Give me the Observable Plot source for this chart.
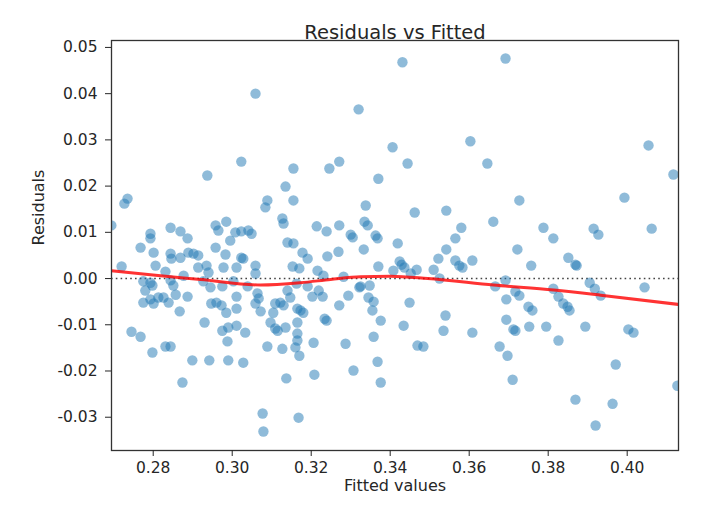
<!DOCTYPE html>
<html><head><meta charset="utf-8">
<script src="https://cdn.jsdelivr.net/npm/d3@7"></script>
<script src="https://cdn.jsdelivr.net/npm/@observablehq/plot@0.6"></script>
<style>html,body{margin:0;padding:0;background:#fff;}</style>
</head><body><div id="chart"></div>
<script>
const fitted = [
0.2694,0.2727,0.2735,0.2720,0.2768,0.2793,0.2793,0.2801,0.2806,0.2775,
0.2793,0.2798,0.2780,0.2775,0.2793,0.2801,0.2813,0.2745,0.2768,0.2798,
0.2831,0.2844,0.2869,0.2887,0.2844,0.2846,0.2869,0.2889,0.2902,0.2914,
0.2844,0.2851,0.2877,0.2826,0.2839,0.2857,0.2887,0.2867,0.2831,0.2844,
0.2874,0.2899,0.2914,0.2935,0.2937,0.2940,0.2927,0.2945,0.2930,0.2942,
0.2958,0.2965,0.2985,0.2995,0.2958,0.2983,0.3023,0.3008,0.3023,0.3041,
0.3049,0.3023,0.3028,0.3059,0.2978,0.3011,0.2975,0.3003,0.2947,0.2960,
0.2973,0.2985,0.3011,0.3011,0.2975,0.2990,0.3011,0.3033,0.2988,0.2990,
0.3028,0.3059,0.3039,0.3059,0.3064,0.3067,0.3059,0.3072,0.3077,0.3079,
0.3084,0.3089,0.3135,0.3155,0.3155,0.3127,0.3130,0.3140,0.3155,0.3178,
0.3191,0.3153,0.3170,0.3140,0.3147,0.3163,0.3109,0.3122,0.3130,0.3165,
0.3173,0.3180,0.3104,0.3097,0.3109,0.3115,0.3135,0.3165,0.3165,0.3165,
0.3160,0.3170,0.3127,0.3089,0.3137,0.3168,0.3191,0.3214,0.3239,0.3246,
0.3271,0.3271,0.3300,0.3305,0.3269,0.3241,0.3216,0.3231,0.3282,0.3219,
0.3229,0.3206,0.3208,0.3234,0.3239,0.3271,0.3294,0.3287,0.3307,0.3322,
0.3320,0.3203,0.3338,0.3335,0.3343,0.3333,0.3363,0.3368,0.3370,0.3406,
0.3431,0.3444,0.3419,0.3370,0.3424,0.3429,0.3436,0.3408,0.3452,0.3348,
0.3325,0.3345,0.3358,0.3355,0.3376,0.3358,0.3368,0.3376,0.3449,0.3434,
0.3462,0.3467,0.3510,0.3522,0.3525,0.3542,0.3542,0.3565,0.3565,0.3575,
0.3583,0.3580,0.3540,0.3535,0.3469,0.3484,0.3603,0.3646,0.3608,0.3661,
0.3692,0.3666,0.3692,0.3694,0.3608,0.3677,0.3697,0.3710,0.3694,0.3727,
0.3722,0.3757,0.3717,0.3727,0.3712,0.3717,0.3752,0.3750,0.3760,0.3788,
0.3813,0.3813,0.3826,0.3795,0.3826,0.3851,0.3869,0.3872,0.3838,0.3849,
0.3854,0.3894,0.3869,0.3915,0.3927,0.3905,0.3918,0.3933,0.3920,0.3993,
0.3963,0.3971,0.4003,0.4016,0.4044,0.4054,0.4062,0.4117,0.4127
];
const residuals = [
0.0115,0.0162,0.0173,0.0026,0.0067,0.0097,0.0087,0.0056,0.0028,-0.0006,
-0.0009,-0.0015,-0.0026,-0.0052,-0.0045,-0.0054,-0.0041,-0.0115,-0.0126,-0.0160,
0.0015,0.0110,0.0102,0.0087,0.0054,0.0043,0.0045,0.0056,0.0054,0.0050,
-0.0004,-0.0015,0.0006,-0.0041,-0.0052,-0.0035,-0.0039,-0.0071,-0.0147,-0.0147,
-0.0225,-0.0177,0.0024,0.0028,0.0223,0.0013,-0.0006,-0.0019,-0.0095,-0.0177,
0.0115,0.0104,0.0123,0.0082,0.0067,0.0052,0.0253,0.0100,0.0102,0.0104,
0.0097,0.0045,0.0043,0.0028,0.0024,0.0024,-0.0017,-0.0006,-0.0054,-0.0052,
-0.0058,-0.0074,-0.0039,-0.0065,-0.0113,-0.0106,-0.0102,-0.0117,-0.0136,-0.0177,
-0.0182,0.0400,-0.0017,0.0011,-0.0032,-0.0043,-0.0054,-0.0071,-0.0292,-0.0331,
0.0154,0.0169,0.0199,0.0238,0.0169,0.0130,0.0119,0.0078,0.0076,0.0056,
0.0043,0.0026,0.0022,-0.0026,-0.0041,-0.0011,-0.0054,-0.0052,-0.0058,-0.0065,
-0.0069,-0.0074,-0.0074,-0.0095,-0.0108,-0.0113,-0.0106,-0.0095,-0.0119,-0.0134,
-0.0149,-0.0167,-0.0152,-0.0147,-0.0216,-0.0301,-0.0017,0.0113,0.0102,0.0238,
0.0253,0.0115,0.0095,0.0089,0.0058,0.0048,0.0017,0.0006,0.0004,-0.0026,
-0.0039,-0.0139,-0.0208,-0.0087,-0.0091,-0.0058,-0.0037,-0.0141,-0.0199,-0.0019,
0.0366,-0.0039,0.0158,0.0123,0.0115,0.0063,0.0093,0.0087,0.0216,0.0284,
0.0468,0.0249,0.0076,0.0026,0.0037,0.0030,0.0024,0.0017,0.0011,-0.0015,
-0.0017,-0.0041,-0.0050,-0.0069,-0.0091,-0.0126,-0.0180,-0.0225,-0.0052,-0.0102,
0.0143,0.0019,0.0019,0.0043,0.0000,0.0147,0.0063,0.0087,0.0039,0.0028,
0.0024,0.0110,-0.0080,-0.0113,-0.0145,-0.0147,0.0297,0.0249,0.0039,0.0123,
0.0476,-0.0017,-0.0004,-0.0045,-0.0117,-0.0147,-0.0167,-0.0219,-0.0089,0.0169,
0.0063,0.0028,-0.0028,-0.0037,-0.0110,-0.0113,-0.0104,-0.0061,-0.0069,0.0110,
0.0087,-0.0022,-0.0039,-0.0104,-0.0134,0.0045,0.0030,0.0028,-0.0054,-0.0061,
-0.0069,-0.0104,-0.0262,0.0108,0.0095,-0.0009,-0.0022,-0.0037,-0.0318,0.0175,
-0.0271,-0.0186,-0.0110,-0.0117,-0.0019,0.0288,0.0108,0.0225,-0.0232
];
const lowessX = [0.2694,0.2793,0.2920,0.3072,0.3173,0.3249,0.3325,0.3401,0.3495,0.3662,0.3814,0.3933,0.4130];
const lowessY = [0.0017,0.0008,-0.0002,-0.0014,-0.0009,-0.0002,0.0004,0.0005,0.0000,-0.0014,-0.0025,-0.0036,-0.0056];
const xTicks = [0.28,0.30,0.32,0.34,0.36,0.38,0.40];
const yTicks = [-0.03,-0.02,-0.01,0.00,0.01,0.02,0.03,0.04,0.05];
const titleText = "Residuals vs Fitted";
const xLabel = "Fitted values";
const yLabel = "Residuals";

const points = fitted.map((f, i) => ({fitted: f, resid: residuals[i]}));
const smooth = lowessX.map((x, i) => ({x, y: lowessY[i]}));
const fmt = d => d.toFixed(2);

const chart = Plot.plot({
  width: 720, height: 513,
  marginLeft: 111, marginRight: 42, marginTop: 40, marginBottom: 63,
  style: {fontFamily: "DejaVu Sans", fontSize: "16px", color: "#262626", background: "white"},
  x: {domain: [0.26944, 0.41299]},
  y: {domain: [-0.0372, 0.0515]},
  marks: [
    Plot.ruleY([0], {stroke: "#444", strokeWidth: 1.6, strokeDasharray: "1.6,3.2"}),
    Plot.dot(points, {x: "fitted", y: "resid", r: 5.2, fill: "#1f77b4", fillOpacity: 0.5, stroke: "none", clip: true}),
    Plot.line(smooth, {x: "x", y: "y", stroke: "red", strokeOpacity: 0.8, strokeWidth: 3, curve: "monotone-x", clip: true}),
    Plot.frame({stroke: "#333", strokeWidth: 1.3}),
    Plot.axisX({ticks: xTicks, tickFormat: fmt, tickSize: 6, tickPadding: 5, fontSize: 15.5, label: null}),
    Plot.axisY({ticks: yTicks, tickFormat: fmt, tickSize: 6, tickPadding: 8, fontSize: 15.5, label: null}),
    Plot.text([titleText], {text: d => d, frameAnchor: "top", dy: -15.5, fontSize: 19.5}),
    Plot.text([xLabel], {text: d => d, frameAnchor: "bottom", dy: 40.5, fontSize: 16}),
    Plot.text([yLabel], {text: d => d, frameAnchor: "left", dx: -73, rotate: -90, fontSize: 16})
  ]
});
document.getElementById("chart").appendChild(chart);
</script>
</body></html>
